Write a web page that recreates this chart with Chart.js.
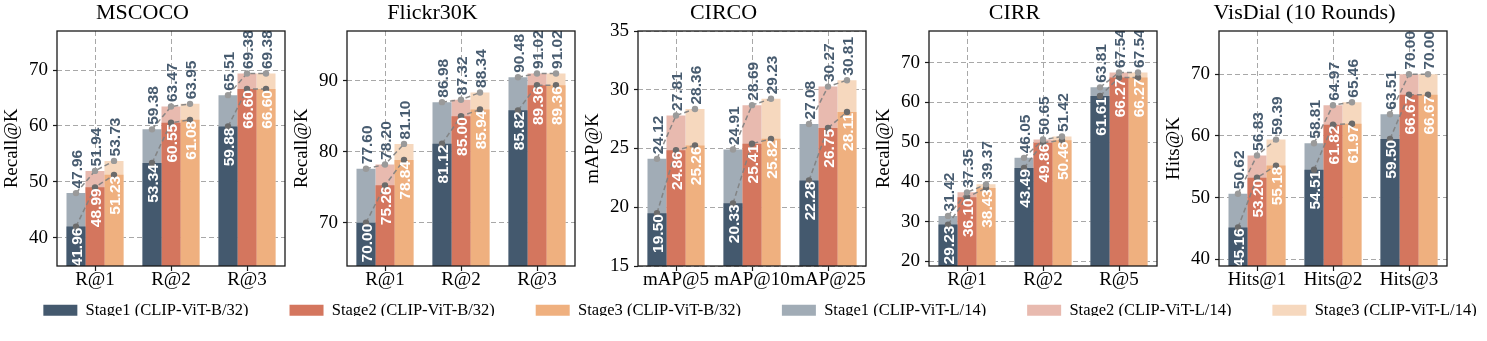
<!DOCTYPE html>
<html lang="en">
  <head>
    <meta charset="UTF-8" />
    <title>Retrieval results by stage</title>
    <script src="https://cdn.jsdelivr.net/npm/chart.js"></script>
    <style>
      body {
        margin: 0;
        width: 1487px;
        height: 341px;
        overflow: hidden;
        background: #fff;
        position: relative;
      }
      canvas {
        position: absolute;
        top: 0;
      }
    </style>
  </head>
  <body>
    <canvas id="coco" width="289" height="292" style="left: 0px"></canvas>
    <canvas id="flickr" width="289" height="292" style="left: 290px"></canvas>
    <canvas id="circo" width="289" height="292" style="left: 581px"></canvas>
    <canvas id="cirr" width="289" height="292" style="left: 872px"></canvas>
    <canvas id="visdial" width="289" height="292" style="left: 1162px"></canvas>
    <canvas id="legend" width="1600" height="110" style="left: -40px; top: 261px"></canvas>

    <script>
      // rows = Stage1, Stage2, Stage3 ; columns = metric groups
      const cocoLabels = ["R@1", "R@2", "R@3"];
      const cocoB32 = [[41.96, 53.34, 59.88], [48.99, 60.55, 66.60], [51.23, 61.08, 66.60]];
      const cocoL14 = [[47.96, 59.38, 65.51], [51.94, 63.47, 69.38], [53.73, 63.95, 69.38]];
      const cocoTicks = [40, 50, 60, 70];
      const cocoRange = [34.9, 77.0];

      const flickrLabels = ["R@1", "R@2", "R@3"];
      const flickrB32 = [[70.00, 81.12, 85.82], [75.26, 85.00, 89.36], [78.84, 85.94, 89.36]];
      const flickrL14 = [[77.60, 86.98, 90.48], [78.20, 87.32, 91.02], [81.10, 88.34, 91.02]];
      const flickrTicks = [70, 80, 90];
      const flickrRange = [63.9, 97.0];

      const circoLabels = ["mAP@5", "mAP@10", "mAP@25"];
      const circoB32 = [[19.50, 20.33, 22.28], [24.86, 25.41, 26.75], [25.26, 25.82, 28.11]];
      const circoL14 = [[24.12, 24.91, 27.08], [27.81, 28.69, 30.27], [28.36, 29.23, 30.81]];
      const circoTicks = [15, 20, 25, 30, 35];
      const circoRange = [15, 35];

      const cirrLabels = ["R@1", "R@2", "R@5"];
      const cirrB32 = [[29.23, 43.49, 61.61], [36.10, 49.86, 66.27], [38.43, 50.46, 66.27]];
      const cirrL14 = [[31.42, 46.05, 63.81], [37.35, 50.65, 67.54], [39.37, 51.42, 67.54]];
      const cirrTicks = [20, 30, 40, 50, 60, 70];
      const cirrRange = [18.8, 78.0];

      const visdialLabels = ["Hits@1", "Hits@2", "Hits@3"];
      const visdialB32 = [[45.16, 54.51, 59.50], [53.20, 61.82, 66.67], [55.18, 61.97, 66.67]];
      const visdialL14 = [[50.62, 58.81, 63.51], [56.83, 64.97, 70.00], [59.39, 65.46, 70.00]];
      const visdialTicks = [40, 50, 60, 70];
      const visdialRange = [38.9, 77.0];

      const stageNames = ["Stage1", "Stage2", "Stage3"];
      const colorsB32 = ["#44596e", "#d4765e", "#efb07f"];
      const colorsL14 = ["#a1acb6", "#e8baaf", "#f6d8be"];

      const SERIF = '"Liberation Serif", "Times New Roman", serif';
      const SANS = '"Liberation Sans", Arial, sans-serif';
      Chart.defaults.font.family = SERIF;
      Chart.defaults.color = "#000";

      // three bars share 75% of a category
      const groupWidth = 0.75;
      const slot = groupWidth / stageNames.length;

      // value labels: white inside the B/32 bars, dark above the L/14 bars
      const valueLabels = {
        id: "valueLabels",
        afterDatasetsDraw(chart) {
          const { ctx, chartArea: a } = chart;
          ctx.save();
          ctx.beginPath();
          ctx.rect(a.left, a.top, a.right - a.left, a.bottom - a.top);
          ctx.clip();
          ctx.font = "bold 15.5px " + SANS;
          ctx.textBaseline = "alphabetic";
          chart.data.datasets.forEach((ds, i) => {
            const meta = chart.getDatasetMeta(i);
            if (meta.type !== "bar") return;
            meta.data.forEach((bar, j) => {
              const text = ds.data[j].toFixed(2);
              ctx.save();
              ctx.translate(bar.x, bar.y);
              ctx.rotate(-Math.PI / 2);
              if (ds.inner) {
                ctx.fillStyle = "#fff";
                ctx.textAlign = "right";
                ctx.fillText(text, -1, 5.5);
              } else {
                ctx.fillStyle = "#485c70";
                ctx.textAlign = "left";
                ctx.fillText(text, 4.5, 5.5);
              }
              ctx.restore();
            });
          });
          ctx.restore();

          // axes frame
          ctx.save();
          ctx.strokeStyle = "#1a1a1a";
          ctx.lineWidth = 1.3;
          ctx.strokeRect(a.left, a.top, a.right - a.left, a.bottom - a.top);
          ctx.restore();
        },
      };

      // points sit on the bar centres of each group; x is the category index
      function linePoints(labels, rows) {
        const pts = [];
        labels.forEach((_, g) => {
          rows.forEach((row, s) => pts.push({ x: g + (s - 1) * slot, y: row[g] }));
          pts.push({ x: g + 0.5, y: null });
        });
        return pts;
      }

      function makePanel(id, title, yTitle, labels, b32, l14, ticks, range) {
        const datasets = [];
        b32.forEach((row, s) => {
          datasets.push({
            type: "bar",
            label: stageNames[s] + " (CLIP-ViT-B/32)",
            data: row,
            backgroundColor: colorsB32[s],
            stack: "s" + s,
            inner: true,
            order: 1,
          });
        });
        l14.forEach((row, s) => {
          datasets.push({
            type: "bar",
            label: stageNames[s] + " (CLIP-ViT-L/14)",
            data: row,
            backgroundColor: colorsL14[s],
            stack: "s" + s,
            inner: false,
            order: 1,
          });
        });
        // dashed trend through each group, one for each backbone
        [
          [l14, "#9a9a9a"],
          [b32, "#6b6b6b"],
        ].forEach(([rows, dot]) => {
          datasets.push({
            type: "line",
            parsing: false,
            data: linePoints(labels, rows),
            borderColor: "rgba(128,128,128,0.9)",
            borderWidth: 1.5,
            borderDash: [5, 3],
            pointRadius: 3.2,
            pointBackgroundColor: dot,
            pointBorderWidth: 0,
            spanGaps: false,
            tension: 0,
            order: 0,
          });
        });

        new Chart(document.getElementById(id), {
          type: "bar",
          data: { labels: labels, datasets: datasets },
          options: {
            responsive: false,
            animation: false,
            events: [],
            categoryPercentage: groupWidth,
            barPercentage: 1.0,
            layout: { padding: { left: 0, right: 4, top: 0, bottom: 0 } },
            plugins: {
              legend: { display: false },
              tooltip: { enabled: false },
              title: {
                display: true,
                text: title,
                color: "#000",
                font: { size: 22, weight: "normal", lineHeight: 1.2 },
                padding: { top: 0.5, bottom: 4.1 },
              },
            },
            scales: {
              x: {
                stacked: true,
                offset: true,
                border: { display: false, dash: [5, 3] },
                grid: {
                  offset: false,
                  color: "#a8a8a8",
                  lineWidth: 1,
                  tickLength: 5,
                  tickColor: "#1a1a1a",
                  tickWidth: 1.2,
                },
                ticks: {
                  autoSkip: false,
                  maxRotation: 0,
                  minRotation: 0,
                  padding: 0,
                  color: "#000",
                  font: { size: 19, lineHeight: 1.0 },
                },
                afterFit: (s) => {
                  s.height = 26;
                },
              },
              y: {
                stacked: false,
                min: range[0],
                max: range[1],
                border: { display: false, dash: [5, 3] },
                grid: {
                  color: "#a8a8a8",
                  lineWidth: 1,
                  tickLength: 4,
                  tickColor: "#1a1a1a",
                  tickWidth: 1.2,
                },
                ticks: {
                  padding: 5,
                  color: "#000",
                  font: { size: 19 },
                },
                afterBuildTicks: (s) => {
                  s.ticks = ticks.map((v) => ({ value: v }));
                },
                title: {
                  display: true,
                  text: yTitle,
                  color: "#000",
                  font: { size: 19 },
                  padding: { top: 1, bottom: 0 },
                },
                afterFit: (s) => {
                  s.width = 57;
                },
              },
            },
          },
          plugins: [valueLabels],
        });
      }

      makePanel("coco", "MSCOCO", "Recall@K", cocoLabels, cocoB32, cocoL14, cocoTicks, cocoRange);
      makePanel("flickr", "Flickr30K", "Recall@K", flickrLabels, flickrB32, flickrL14, flickrTicks, flickrRange);
      makePanel("circo", "CIRCO", "mAP@K", circoLabels, circoB32, circoL14, circoTicks, circoRange);
      makePanel("cirr", "CIRR", "Recall@K", cirrLabels, cirrB32, cirrL14, cirrTicks, cirrRange);
      makePanel("visdial", "VisDial (10 Rounds)", "Hits@K", visdialLabels, visdialB32, visdialL14, visdialTicks, visdialRange);

      // shared legend across the bottom
      const legendSets = [];
      colorsB32.forEach((c, s) =>
        legendSets.push({ label: stageNames[s] + " (CLIP-ViT-B/32)", data: [], backgroundColor: c, borderWidth: 0 })
      );
      colorsL14.forEach((c, s) =>
        legendSets.push({ label: stageNames[s] + " (CLIP-ViT-L/14)", data: [], backgroundColor: c, borderWidth: 0 })
      );
      new Chart(document.getElementById("legend"), {
        type: "bar",
        data: { labels: [], datasets: legendSets },
        options: {
          responsive: false,
          animation: false,
          events: [],
          layout: { padding: 0 },
          plugins: {
            tooltip: { enabled: false },
            legend: {
              position: "top",
              labels: {
                boxWidth: 34,
                boxHeight: 11,
                padding: 41,
                color: "#000",
                font: { size: 16.5 },
              },
            },
          },
          scales: { x: { display: false }, y: { display: false } },
        },
      });
    </script>
  </body>
</html>
